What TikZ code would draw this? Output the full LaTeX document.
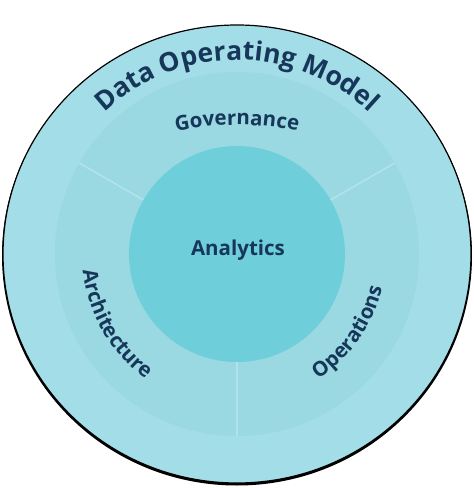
\documentclass[tikz,border=0pt]{standalone}
\usepackage{fontspec}
\setmainfont{Open Sans}
\usetikzlibrary{decorations.text}
\definecolor{ringout}{HTML}{A3DDE7}
\definecolor{ringmid}{HTML}{9AD8E2}
\definecolor{core}{HTML}{6ECFDB}
\definecolor{seam}{HTML}{B2E3EB}
\definecolor{navy}{HTML}{17375A}
\newcommand{\titlefont}{\bfseries\fontsize{26.5}{30}\selectfont}
\newcommand{\partfont}{\bfseries\fontsize{20.5}{24}\selectfont}
\begin{document}
\begin{tikzpicture}[x=1pt, y=1pt]
\tikzstyle{every node} = [font=\partfont, text=navy]
\tikzstyle{ringtext} = [decorate, decoration={text along path, text align=center, text color=navy}]
\useasboundingbox (-237,-234) rectangle (237,254);
\fill[black] (0,-1.5) ellipse (235pt and 230pt);
\draw[fill=ringout, line width=1.2pt] (0,0) ellipse (234pt and 229pt);
\fill[ringmid] (0,0) circle (182pt);
\node[circle, minimum size=216pt, inner sep=0pt, fill=core] (core) at (0,0) {};
\foreach \a in {30, 150, 270}
\draw[seam, line width=1.6pt] (core.\a) -- (\a:182pt);
\node[anchor=base] (analytics) at (1,-1) {Analytics};
% curved labels
\path[ringtext, decoration={text={|\titlefont|Data Operating Model}}] (150:194pt) arc (150:30:194pt);
\path[ringtext, decoration={text={|\partfont|Governance}}] ([shift={(0pt,-171pt)}]115:300pt) arc (115:65:300pt);
\path[ringtext, decoration={text={|\partfont|Architecture}}] (170:155pt) arc (170:250:155pt);
\path[ringtext, decoration={text={|\partfont|Operations}}] (-75:149pt) arc (-75:5:149pt);
\end{tikzpicture}
\end{document}
